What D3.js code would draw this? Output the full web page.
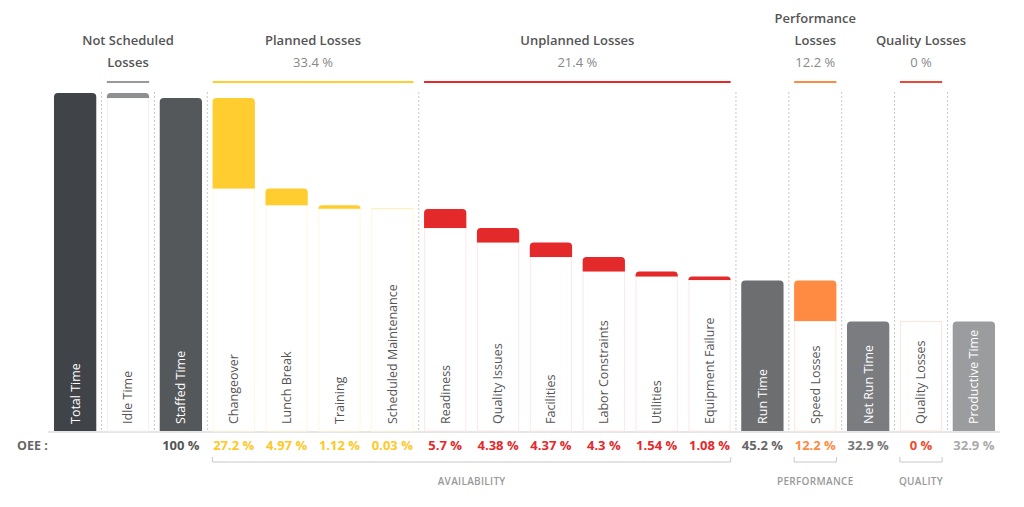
<!DOCTYPE html>
<html>
<head>
<meta charset="utf-8">
<script src="https://cdn.jsdelivr.net/npm/d3@7"></script>
<style>
  html, body { margin: 0; padding: 0; background: #fff; }
  svg { display: block; font-family: "Open Sans", "Noto Sans", sans-serif; }
</style>
</head>
<body>
<div id="chart"></div>
<script>
const width = 1024;
const height = 507;

// bars, left to right
const categories = ["Total Time", "Idle Time", "Staffed Time", "Changeover", "Lunch Break", "Training",
    "Scheduled Maintenance", "Readiness", "Quality Issues", "Facilities", "Labor Constraints", "Utilities",
    "Equipment Failure", "Run Time", "Speed Losses", "Net Run Time", "Quality Losses", "Productive Time"];
const values = [101.5, 1.5, 100, 27.2, 4.97, 1.12, 0.03, 5.7, 4.38, 4.37, 4.3, 1.54, 1.08, 45.2, 12.2, 32.9, 0, 32.9];
const kinds = ["total", "idle", "total", "planned", "planned", "planned", "planned",
    "unplanned", "unplanned", "unplanned", "unplanned", "unplanned", "unplanned",
    "total", "performance", "total", "quality", "total"];
const oeeLabels = ["", "", "100 %", "27.2 %", "4.97 %", "1.12 %", "0.03 %", "5.7 %", "4.38 %", "4.37 %",
    "4.3 %", "1.54 %", "1.08 %", "45.2 %", "12.2 %", "32.9 %", "0 %", "32.9 %"];

// header groups
const groupTitles = [["Not Scheduled", "Losses"], ["Planned Losses"], ["Unplanned Losses"], ["Performance", "Losses"], ["Quality Losses"]];
const groupPercents = ["", "33.4 %", "21.4 %", "12.2 %", "0 %"];
const groupSpans = [[1, 1], [3, 6], [7, 12], [14, 14], [16, 16]];
const groupKinds = ["idle", "planned", "unplanned", "performance", "quality"];

// bottom sections
const sectionNames = ["AVAILABILITY", "PERFORMANCE", "QUALITY"];
const sectionSpans = [[3, 12], [14, 14], [16, 16]];

const separatorsAfter = [0, 1, 2, 6, 12, 13, 14, 15, 16];

// styles
const totalFill = {
    "Total Time": "#404347", "Staffed Time": "#55585b", "Run Time": "#6c6e70",
    "Net Run Time": "#7a7c7f", "Productive Time": "#9a9c9e"
};
const totalText = {
    "Staffed Time": "#555", "Run Time": "#666", "Net Run Time": "#777", "Productive Time": "#aaa"
};
const lossFill = { idle: "#8c8e90", planned: "#ffcd2f", unplanned: "#e4292b", performance: "#ff8a42", quality: "#e84a3a" };
const lossEdge = { idle: "#f2f2f2", planned: "#fff7dd", unplanned: "#fde8e8", performance: "#ffe8dc", quality: "#fde3de" };
const lossText = { idle: "#999", planned: "#ffc828", unplanned: "#e4292b", performance: "#ff8a42", quality: "#ee4a2c" };

const x = d3.scaleBand()
    .domain(categories)
    .range([48.7, 1000.3])
    .paddingInner(0.2)
    .paddingOuter(0.1);

const y = d3.scaleLinear()
    .domain([0, 100])
    .range([431, 98]);

const bw = x.bandwidth();
const step = x.step();

// waterfall levels
let level = 0;
const bars = categories.map((c, i) => {
    const k = kinds[i];
    let top, bottom;
    if (k === "total") {
        top = values[i]; bottom = 0; level = values[i];
    } else {
        top = level; bottom = level - values[i]; level = bottom;
    }
    return { name: c, kind: k, top, bottom, label: oeeLabels[i] };
});

function roundTop(x0, y0, w, h, r) {
    r = Math.min(r, h, w / 2);
    return `M${x0},${y0 + h}V${y0 + r}Q${x0},${y0} ${x0 + r},${y0}H${x0 + w - r}Q${x0 + w},${y0} ${x0 + w},${y0 + r}V${y0 + h}Z`;
}

const svg = d3.select("#chart")
    .append("svg")
    .attr("width", width)
    .attr("height", height)
    .attr("viewBox", [0, 0, width, height]);

// separators
svg.append("g")
    .selectAll("line")
    .data(separatorsAfter)
    .join("line")
    .attr("x1", i => x(categories[i]) + bw + (step - bw) / 2)
    .attr("x2", i => x(categories[i]) + bw + (step - bw) / 2)
    .attr("y1", 92)
    .attr("y2", 431)
    .attr("stroke", "#c8c8c8")
    .attr("stroke-width", 1)
    .attr("stroke-dasharray", "2,2");

// baseline
svg.append("line")
    .attr("x1", 48).attr("x2", 1000)
    .attr("y1", 432).attr("y2", 432)
    .attr("stroke", "#e6e6e6")
    .attr("stroke-width", 2);

const cell = svg.append("g")
    .selectAll("g")
    .data(bars)
    .join("g")
    .attr("transform", d => `translate(${x(d.name)},0)`);

// total bars
cell.filter(d => d.kind === "total")
    .append("path")
    .attr("d", d => roundTop(0, y(d.top), bw, y(0) - y(d.top), 4))
    .attr("fill", d => totalFill[d.name]);

// loss bars: white body with faint edge, coloured cap
const loss = cell.filter(d => d.kind !== "total");

loss.append("rect")
    .attr("x", 0.5)
    .attr("y", d => y(d.bottom))
    .attr("width", bw - 1)
    .attr("height", d => y(0) - y(d.bottom))
    .attr("fill", "#fff")
    .attr("stroke", d => lossEdge[d.kind])
    .attr("stroke-width", 1);

loss.append("path")
    .attr("d", d => roundTop(0, y(d.top), bw, y(d.bottom) - y(d.top), 4))
    .attr("fill", d => lossFill[d.kind]);

// bar labels
cell.append("text")
    .attr("transform", `translate(${bw / 2},424) rotate(-90)`)
    .attr("dy", "0.35em")
    .attr("font-size", 12.5)
    .attr("fill", d => d.kind === "total" ? "#fff" : "#555")
    .text(d => d.name);

// OEE row
svg.append("text")
    .attr("x", 17)
    .attr("y", 450)
    .attr("font-size", 12.5)
    .attr("font-weight", 700)
    .attr("fill", "#666")
    .text("OEE :");

cell.append("text")
    .attr("x", bw / 2)
    .attr("y", 450)
    .attr("text-anchor", "middle")
    .attr("font-size", 13)
    .attr("font-weight", 700)
    .attr("fill", d => d.kind === "total" ? totalText[d.name] : lossText[d.kind])
    .text(d => d.label);

// header groups
const group = svg.append("g")
    .selectAll("g")
    .data(groupTitles.map((t, i) => ({ title: t, pct: groupPercents[i], span: groupSpans[i], kind: groupKinds[i] })))
    .join("g");

group.append("line")
    .attr("x1", d => x(categories[d.span[0]]))
    .attr("x2", d => x(categories[d.span[1]]) + bw)
    .attr("y1", 82)
    .attr("y2", 82)
    .attr("stroke", d => d.kind === "idle" ? "#999" : lossFill[d.kind])
    .attr("stroke-width", 2);

group.each(function(d) {
    const g = d3.select(this);
    const cx = (x(categories[d.span[0]]) + x(categories[d.span[1]]) + bw) / 2;
    const lines = d.title.map(t => ({ t, pct: false }));
    if (d.pct) lines.push({ t: d.pct, pct: true });
    const n = lines.length;
    g.selectAll("text")
        .data(lines)
        .join("text")
        .attr("x", cx)
        .attr("y", (l, i) => 67 - (n - 1 - i) * 22)
        .attr("text-anchor", "middle")
        .attr("font-size", 13)
        .attr("font-weight", l => l.pct ? 400 : 600)
        .attr("fill", l => l.pct ? "#888" : "#555")
        .text(l => l.t);
});

// bottom sections
const section = svg.append("g")
    .selectAll("g")
    .data(sectionNames.map((s, i) => ({ name: s, span: sectionSpans[i] })))
    .join("g");

section.append("path")
    .attr("d", d => {
        const x0 = x(categories[d.span[0]]);
        const x1 = x(categories[d.span[1]]) + bw;
        return `M${x0},457V462H${x1}V457`;
    })
    .attr("fill", "none")
    .attr("stroke", "#c8c8c8")
    .attr("stroke-width", 1);

section.append("text")
    .attr("x", d => (x(categories[d.span[0]]) + x(categories[d.span[1]]) + bw) / 2)
    .attr("y", 485)
    .attr("text-anchor", "middle")
    .attr("font-size", 10)
    .attr("font-weight", 600)
    .attr("letter-spacing", 0.3)
    .attr("fill", "#999")
    .text(d => d.name);
</script>
</body>
</html>
